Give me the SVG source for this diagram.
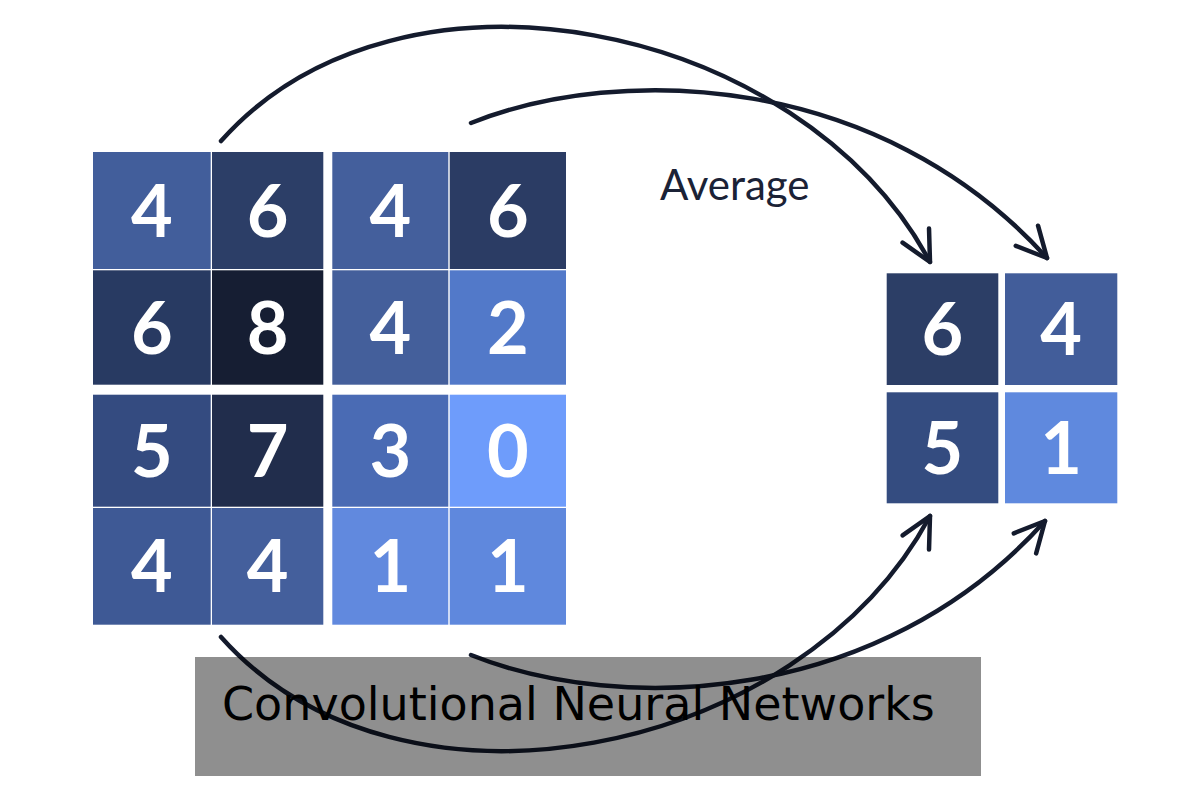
<svg xmlns="http://www.w3.org/2000/svg" width="1200" height="800" viewBox="0 0 1200 800">
  <defs>
    <style>
      .d { font-family: Lato, "Liberation Sans", sans-serif; font-weight: 700; font-size: 72px; fill: #ffffff; text-anchor: middle; }
      .lbl { font-family: Lato, "Liberation Sans", sans-serif; font-weight: 400; font-size: 42px; fill: #1b2236; }
      .arc { fill: none; stroke: #141b2d; stroke-width: 4.5; stroke-linecap: round; marker-end: url(#ah); }
      .ban { font-family: "DejaVu Sans", "Liberation Sans", sans-serif; font-size: 46px; fill: #000000; }
    </style>
    <marker id="ah" markerUnits="userSpaceOnUse" markerWidth="50" markerHeight="50" viewBox="-40 -25 50 50" refX="0" refY="0" orient="auto" overflow="visible">
      <path d="M-30,-15 L0,0 L-30,15" fill="none" stroke="#141b2d" stroke-width="4.5" stroke-linecap="round" stroke-linejoin="round"/>
    </marker>
  </defs>
  <rect width="1200" height="800" fill="#ffffff"/>

  <g id="input-grid">
    <g id="in-r1c1"><rect x="93" y="152" width="117.7" height="117" fill="#425e9b"/><text class="d" x="151.8" y="237">4</text></g>
    <g id="in-r1c2"><rect x="212" y="152" width="111.3" height="117" fill="#2c3e67"/><text class="d" x="267.6" y="237">6</text></g>
    <g id="in-r1c3"><rect x="332.3" y="152" width="116" height="117" fill="#445f9c"/><text class="d" x="390.3" y="237">4</text></g>
    <g id="in-r1c4"><rect x="449.7" y="152" width="116.3" height="117" fill="#2b3c64"/><text class="d" x="507.8" y="237">6</text></g>

    <g id="in-r2c1"><rect x="93" y="270.3" width="117.7" height="114.4" fill="#283a62"/><text class="d" x="151.8" y="353.5">6</text></g>
    <g id="in-r2c2"><rect x="212" y="270.3" width="111.3" height="114.4" fill="#161e33"/><text class="d" x="267.6" y="353.5">8</text></g>
    <g id="in-r2c3"><rect x="332.3" y="270.3" width="116" height="114.4" fill="#445f9b"/><text class="d" x="390.3" y="353.5">4</text></g>
    <g id="in-r2c4"><rect x="449.7" y="270.3" width="116.3" height="114.4" fill="#5279c9"/><text class="d" x="507.8" y="353.5">2</text></g>

    <g id="in-r3c1"><rect x="93" y="394.7" width="117.7" height="112" fill="#344b80"/><text class="d" x="151.8" y="476.7">5</text></g>
    <g id="in-r3c2"><rect x="212" y="394.7" width="111.3" height="112" fill="#212d4c"/><text class="d" x="267.6" y="476.7">7</text></g>
    <g id="in-r3c3"><rect x="332.3" y="394.7" width="116" height="112" fill="#4a6bb4"/><text class="d" x="390.3" y="476.7">3</text></g>
    <g id="in-r3c4"><rect x="449.7" y="394.7" width="116.3" height="112" fill="#6e9cfb"/><text class="d" x="507.8" y="476.7">0</text></g>

    <g id="in-r4c1"><rect x="93" y="508" width="117.7" height="116.7" fill="#3e5995"/><text class="d" x="151.8" y="592.3">4</text></g>
    <g id="in-r4c2"><rect x="212" y="508" width="111.3" height="116.7" fill="#445f9c"/><text class="d" x="267.6" y="592.3">4</text></g>
    <g id="in-r4c3"><rect x="332.3" y="508" width="116" height="116.7" fill="#6189de"/><text class="d" x="390.3" y="592.3">1</text></g>
    <g id="in-r4c4"><rect x="449.7" y="508" width="116.3" height="116.7" fill="#5f88dd"/><text class="d" x="507.8" y="592.3">1</text></g>
  </g>

  <g id="output-grid">
    <g id="out-r1c1"><rect x="886.7" y="273.3" width="111.6" height="111.7" fill="#2c3e66"/><text class="d" x="942.5" y="355">6</text></g>
    <g id="out-r1c2"><rect x="1005" y="273.3" width="112.3" height="111.7" fill="#425d9a"/><text class="d" x="1061.2" y="355">4</text></g>
    <g id="out-r2c1"><rect x="886.7" y="392.3" width="111.6" height="111" fill="#344c80"/><text class="d" x="942.5" y="473.8">5</text></g>
    <g id="out-r2c2"><rect x="1005" y="392.3" width="112.3" height="111" fill="#5f89de"/><text class="d" x="1061.2" y="473.8">1</text></g>
  </g>

  <g id="label-average">
    <text class="lbl" x="660" y="200">Average</text>
  </g>

  <g id="connectors">
    <path class="arc" d="M221,141 C400,-60 800,20 930,262"/>
    <path class="arc" d="M471,123 C621,63 880,73 1047,258"/>
    <path class="arc" d="M221,637 C400,838 800,758 930,516"/>
    <path class="arc" d="M471,655 C621,715 880,705 1045,521"/>
  </g>

  <g id="banner">
    <rect x="195" y="657" width="786" height="119" fill="#000000" fill-opacity="0.44"/>
    <text class="ban" x="222" y="720">Convolutional Neural Networks</text>
  </g>
</svg>
